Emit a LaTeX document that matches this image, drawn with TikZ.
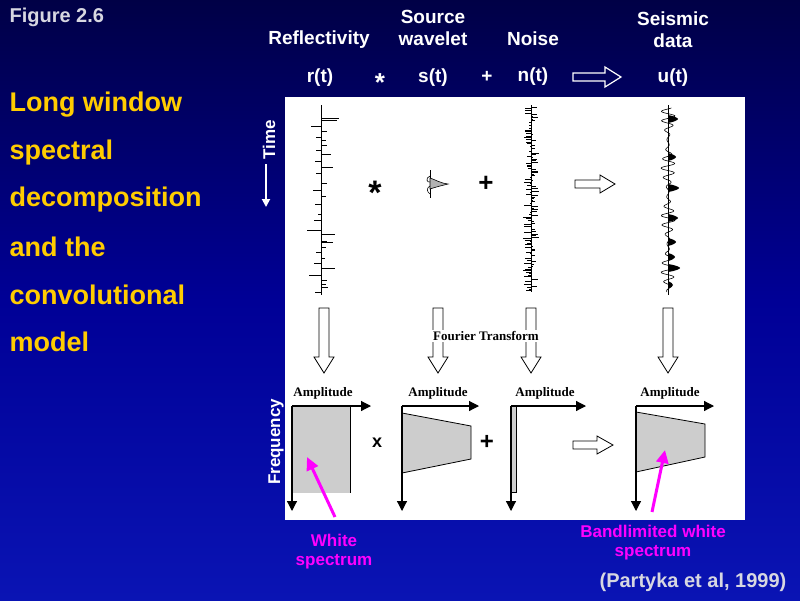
\documentclass[tikz,border=0pt]{standalone}
\usepackage{fontspec}
\setmainfont{Liberation Sans}
\newfontfamily\serifb{Liberation Serif}
\usetikzlibrary{arrows.meta}
\definecolor{ylw}{RGB}{255,204,0}
\definecolor{mag}{RGB}{255,0,255}
\definecolor{lgray}{RGB}{215,215,225}
\definecolor{pgray}{RGB}{205,205,205}
\tikzset{
 lbl/.style={text=white,font=\bfseries\fontsize{19}{22}\selectfont,align=center},
 lft/.style={text=ylw,font=\bfseries\fontsize{27}{30}\selectfont,anchor=west},
 hol/.style={draw=black,fill=white,line width=0.8pt,line join=miter},
 ax/.style={line width=1.2pt,-{Triangle[length=10pt,width=10pt]}},
 amp/.style={font=\serifb\bfseries\fontsize{13}{13}\selectfont},
 mg/.style={mag,line width=3pt,-{Triangle[length=13pt,width=12pt]}},
 mtxt/.style={text=mag,font=\bfseries\fontsize{17}{19}\selectfont,align=center},
}
\begin{document}
\begin{tikzpicture}[x=1pt,y=-1pt]
\shade[top color={rgb,255:red,0;green,0;blue,70},bottom color={rgb,255:red,10;green,20;blue,180},middle color={rgb,255:red,0;green,0;blue,150}] (0,0) rectangle (800,600);
\useasboundingbox (0,0) rectangle (800,600);
\fill[white] (285,97) rectangle (745,520);
% left text
\node[text=lgray,font=\bfseries\fontsize{20}{21}\selectfont,anchor=west] (fig) at (6,17) {Figure 2.6};
\node[lft] (l1) at (6,105) {Long window};
\node[lft] (l2) at (6,153) {spectral};
\node[lft] (l3) at (6,200) {decomposition};
\node[lft] (l4) at (6,247) {and the};
\node[lft] (l5) at (6,295) {convolutional};
\node[lft] (l6) at (6,342) {model};
% top labels
\node[lbl] (refl) at (319,40) {Reflectivity};
\node[lbl] (srcw) at (433,28) {Source\\wavelet};
\node[lbl] (noise) at (533,39) {Noise};
\node[lbl] (seis) at (673,30) {Seismic\\data};
\node[lbl] (rt) at (320,78) {r(t)};
\node[lbl,font=\bfseries\fontsize{26}{26}\selectfont] (st1) at (380,83) {*};
\node[lbl] (st) at (433,78) {s(t)};
\node[lbl] (pl) at (487,77) {+};
\node[lbl] (nt) at (533,77) {n(t)};
\node[lbl] (ut) at (673,78) {u(t)};
\draw[white,line width=1.2pt,line join=miter] (573,73)--(605,73)--(605,67)--(621,77)--(605,87)--(605,81)--(573,81)--cycle;
% time
\node[text=white,font=\bfseries\fontsize{17}{17}\selectfont,rotate=90] (time) at (269,140) {Time};
\coordinate (t1) at (266,164);
\coordinate (t2) at (266,207);
\draw[white,line width=1.8pt,-{Triangle[length=8pt,width=8pt]}] (t1) -- (t2);
% reflectivity trace
\draw[line width=1pt] (321,105) -- (321,295);
\foreach \yy/\l in {118/18,120/16,126/-10,131/6,137/-5,140/5,145/6,150/-5,154/10,161/-6,167/12,173/-5,183/6,190/-8,196/5,204/-6,214/-3,220/-7,230/-14,234/14,241/6,247/5,252/-5,258/4,263/-7,268/5,275/-12,280/6,284/5,287/7,292/-6}
  \draw[line width=0.9pt] (321,\yy) -- ++(\l,0);
\draw[line width=1pt] (321,268) -- ++(14,0);
\draw[line width=1pt] (321,242) -- ++(12,0);
% operators
\node[font=\bfseries\fontsize{34}{34}\selectfont] (ast) at (375,193) {*};
\node[font=\bfseries\fontsize{26}{26}\selectfont] (plus2) at (486,184) {+};
% wavelet
\draw[line width=0.8pt] (430,170) -- (430,198);
\fill[gray!60,draw=black,line width=0.6pt] (430,178) .. controls (436,180) and (440,183) .. (448,184) .. controls (440,186) and (436,187) .. (430,189) -- cycle;
\draw[line width=0.6pt] (430,176) .. controls (425,178) and (427,183) .. (430,182);
\draw[line width=0.6pt] (430,186) .. controls (426,188) and (427,192) .. (430,194);
% noise trace
\draw[line width=1pt] (531,105) -- (531,292);
\pgfmathsetseed{7}
\foreach \i in {0,...,120}{
  \pgfmathsetmacro{\yy}{107+\i*1.53}
  \pgfmathsetmacro{\l}{(rnd-0.5)*16}
  \draw[line width=0.8pt] (531,\yy) -- ++(\l,0);
}
% arrow mid top
\draw[hol] (575,180)--(600,180)--(600,175)--(615,184)--(600,193)--(600,188)--(575,188)--cycle;
% seismic trace
\draw[line width=1pt] (668,105) -- (668,295);
\draw[line width=0.6pt,smooth] plot[domain=108:292,samples=260] ({668+ (4+3*sin(\x*7))*sin(\x*38)},\x);
\foreach \yy/\w in {119/10,157/8,188/11,218/10,242/8,257/7,268/12,285/5}
  \fill (668,\yy-4) .. controls (668+\w*0.6,\yy-3) and (668+\w,\yy-1) .. (668+\w,\yy) .. controls (668+\w,\yy+1) and (668+\w*0.6,\yy+3) .. (668,\yy+4) -- cycle;
% down hollow arrows
\foreach \xx in {324,438,531,668}
  \draw[hol] (\xx-5,308)--(\xx+5,308)--(\xx+5,357)--(\xx+10,357)--(\xx,373)--(\xx-10,357)--(\xx-5,357)--cycle;
\node[font=\serifb\bfseries\fontsize{13}{13}\selectfont,fill=white,inner sep=1pt] (ft) at (486,336) {Fourier Transform};
% panels
\node[amp] (a1) at (323,393) {Amplitude};
\node[amp] (a2) at (438,393) {Amplitude};
\node[amp] (a3) at (545,393) {Amplitude};
\node[amp] (a4) at (670,393) {Amplitude};
\fill[pgray] (292,406) rectangle (350,493);
\draw[line width=0.8pt] (350,406) -- (350,493);
\draw[ax] (292,406) -- (371,406);
\draw[ax] (292,406) -- (292,511);
\node[font=\bfseries\fontsize{18}{18}\selectfont] (x1) at (377,443) {x};
\fill[pgray,draw=black,line width=0.8pt] (402,413) -- (471,426) -- (471,459) -- (402,473) -- cycle;
\draw[ax] (402,406) -- (479,406);
\draw[ax] (402,406) -- (402,511);
\node[font=\bfseries\fontsize{24}{24}\selectfont] (p3) at (487,442) {+};
\fill[pgray,draw=black,line width=0.5pt] (511,406) rectangle (516,492);
\draw[ax] (511,406) -- (586,406);
\draw[ax] (511,406) -- (511,511);
\draw[hol] (573,441)--(597,441)--(597,436)--(613,445)--(597,454)--(597,449)--(573,449)--cycle;
\fill[pgray,draw=black,line width=0.8pt] (636,412) -- (705,424) -- (705,457) -- (636,472) -- cycle;
\draw[ax] (636,406) -- (714,406);
\draw[ax] (636,406) -- (636,511);
\node[text=white,font=\bfseries\fontsize{17}{17}\selectfont,rotate=90] (freq) at (276,442) {Frequency};
% magenta
\node[mtxt] (ws) at (334,552) {White\\spectrum};
\node[mtxt] (bw) at (653,543) {Bandlimited white\\spectrum};
\coordinate (m1) at (307,457);
\coordinate (m2) at (665,450);
\draw[mg] (335,517) -- (m1);
\draw[mg] (652,512) -- (m2);
\node[text=lgray,font=\bfseries\fontsize{20}{21}\selectfont] (cite) at (693,582) {(Partyka et al, 1999)};
\end{tikzpicture}
\end{document}
